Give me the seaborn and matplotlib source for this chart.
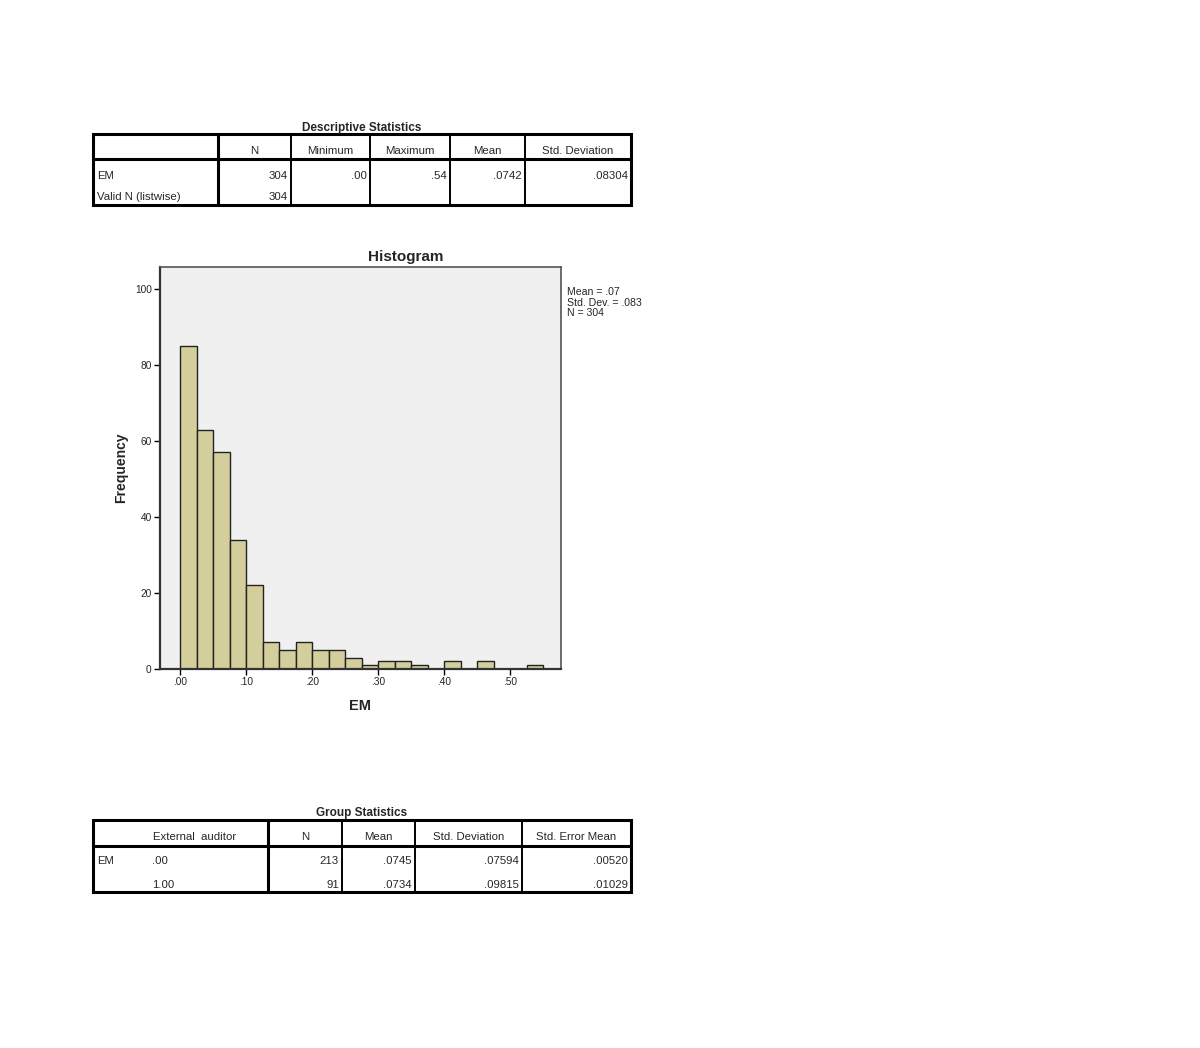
import numpy as np
import pandas as pd
import matplotlib
matplotlib.use("Agg")
import matplotlib.pyplot as plt
import seaborn as sns

# histogram of EM (bin counts, bins of width .025 from .00)
bin_width = 0.025
em_counts = [85, 63, 57, 34, 22, 7, 5, 7, 5, 5, 3, 1, 2, 2, 1, 0, 2, 0, 2, 0, 0, 1]
y_ticks = [0, 20, 40, 60, 80, 100]
x_ticks = [0.0, 0.1, 0.2, 0.3, 0.4, 0.5]
x_tick_labels = [".00", ".10", ".20", ".30", ".40", ".50"]
hist_stats = ["Mean = .07", "Std. Dev. = .083", "N = 304"]

# Descriptive Statistics table
desc_header = ["", "N", "Minimum", "Maximum", "Mean", "Std. Deviation"]
desc_rows = [
    ["EM", "304", ".00", ".54", ".0742", ".08304"],
    ["Valid N (listwise)", "304", "", "", "", ""],
]

# Group Statistics table
group_header = ["External  auditor", "N", "Mean", "Std. Deviation", "Std. Error Mean"]
group_var = "EM"
group_rows = [
    [".00", "213", ".0745", ".07594", ".00520"],
    ["1.00", "91", ".0734", ".09815", ".01029"],
]

sns.set_style("white")
plt.rcParams["font.family"] = ["Liberation Sans", "DejaVu Sans"]

W, H = 1200, 1048
fig = plt.figure(figsize=(W / 100, H / 100), dpi=100)
fig.patch.set_facecolor("white")

# overlay in pixel coordinates for the tables
tab = fig.add_axes([0, 0, 1, 1])
tab.set_xlim(0, W)
tab.set_ylim(H, 0)
tab.axis("off")

# descriptive table
d_edges = [93, 218, 291, 370, 450, 525, 631]
tab.text(362, 127.5, "Descriptive Statistics", ha="center", va="center", fontsize=8.5, fontweight="bold")
tab.plot([93, 631, 631, 93, 93], [134, 134, 205, 205, 134], color="black", lw=2.2, solid_joinstyle="miter")
tab.plot([93, 631], [159, 159], color="black", lw=2.2)
for i, x in enumerate(d_edges[1:-1]):
    tab.plot([x, x], [134, 205], color="black", lw=2.2 if i == 0 else 1.4)
for i, txt in enumerate(desc_header):
    tab.text((d_edges[i] + d_edges[i + 1]) / 2, 151.5, txt, ha="center", va="center", fontsize=8.2)
for r, y in zip(desc_rows, [176, 196.5]):
    tab.text(d_edges[0] + 4, y, r[0], ha="left", va="center", fontsize=8.2)
    for i, txt in enumerate(r[1:], start=1):
        tab.text(d_edges[i + 1] - 3, y, txt, ha="right", va="center", fontsize=8.2)

# group table
g_edges = [93, 268, 342, 415, 522, 631]
tab.text(362, 813, "Group Statistics", ha="center", va="center", fontsize=8.5, fontweight="bold")
tab.plot([93, 631, 631, 93, 93], [820, 820, 892, 892, 820], color="black", lw=2.2, solid_joinstyle="miter")
tab.plot([93, 631], [846, 846], color="black", lw=2.2)
for i, x in enumerate(g_edges[1:-1]):
    tab.plot([x, x], [820, 892], color="black", lw=2.2 if i == 0 else 1.4)
tab.text(195, 837, group_header[0], ha="center", va="center", fontsize=8.2)
for i, txt in enumerate(group_header[1:], start=1):
    tab.text((g_edges[i] + g_edges[i + 1]) / 2, 837, txt, ha="center", va="center", fontsize=8.2)
tab.text(97, 860.5, group_var, ha="left", va="center", fontsize=8.2)
for r, y in zip(group_rows, [860.5, 884.5]):
    tab.text(152, y, r[0], ha="left", va="center", fontsize=8.2)
    for i, txt in enumerate(r[1:], start=1):
        tab.text(g_edges[i + 1] - 3, y, txt, ha="right", va="center", fontsize=8.2)

# histogram
ax_l, ax_r, ax_t, ax_b = 160, 561, 267, 669
ax = fig.add_axes([ax_l / W, (H - ax_b) / H, (ax_r - ax_l) / W, (ax_b - ax_t) / H])
ax.set_facecolor("#F0F0F0")

n_bins = len(em_counts)
mids = (np.arange(n_bins) + 0.5) * bin_width
df = pd.DataFrame({"EM": mids, "count": em_counts})
sns.histplot(data=df, x="EM", weights="count", binwidth=bin_width,
             binrange=(0, n_bins * bin_width), ax=ax,
             color="#D3CE9B", edgecolor="#222222", linewidth=1.0, alpha=1.0)

ax.set_xlim(-0.0303, 0.577)
ax.set_ylim(0, 105.8)
ax.set_xticks(x_ticks)
ax.set_xticklabels(x_tick_labels)
ax.set_yticks(y_ticks)
ax.set_yticklabels([str(v) for v in y_ticks])
ax.tick_params(axis="both", direction="out", length=4, width=1, color="black",
               labelsize=7.3, pad=2, left=True, bottom=True)
for side in ["top", "right"]:
    ax.spines[side].set_color("#555555")
    ax.spines[side].set_linewidth(1.2)
for side in ["left", "bottom"]:
    ax.spines[side].set_color("#333333")
    ax.spines[side].set_linewidth(1.6)

ax.set_xlabel("EM", fontsize=10.5, fontweight="bold")
ax.xaxis.set_label_coords(0.5, -0.075)
ax.set_ylabel("Frequency", fontsize=10, fontweight="bold")
ax.yaxis.set_label_coords(-0.08, 0.5)
ax.set_title("Histogram", fontsize=11, fontweight="bold", x=0.613, pad=4)

ax.text(1.016, 0.95, "\n".join(hist_stats), transform=ax.transAxes,
        ha="left", va="top", fontsize=7.6, linespacing=1.08)

fig.savefig("out.png", dpi=100, facecolor="white")
